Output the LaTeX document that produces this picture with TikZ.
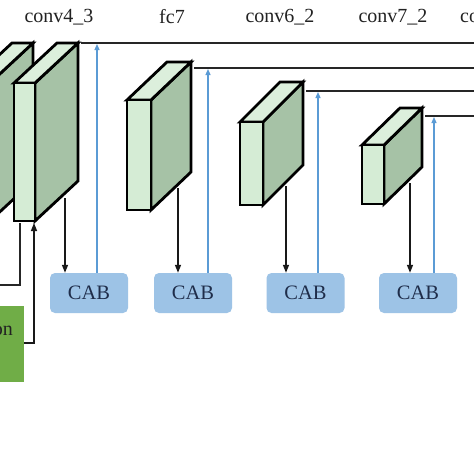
\documentclass[tikz,border=0pt]{standalone}
\usepackage{fontspec}
\setmainfont{Liberation Serif}
\usetikzlibrary{arrows.meta}
\definecolor{frontc}{HTML}{D5ECD5}
\definecolor{sidec}{HTML}{A6C2A6}
\definecolor{topc}{HTML}{DCEFDC}
\definecolor{cabfill}{HTML}{9DC3E6}
\definecolor{cabtext}{HTML}{1F2D4A}
\definecolor{bluec}{HTML}{5B9BD5}
\definecolor{greenc}{HTML}{70AD47}
\definecolor{labc}{HTML}{222222}
\newcommand\drawblk[7]{% name, xl, xr, yt, yb, dx, dy
  \path[sideface] (#3,#4) -- (#3+#6,#4-#7) -- (#3+#6,#5-#7) -- (#3,#5) -- cycle;
  \path[topface] (#2,#4) -- (#2+#6,#4-#7) -- (#3+#6,#4-#7) -- (#3,#4) -- cycle;
  \path[frontface] (#2,#4) rectangle (#3,#5);
  \coordinate (#1-btr) at (#3+#6,#4-#7);
  \coordinate (#1-fbr) at (#3,#5);
}
\begin{document}
\begin{tikzpicture}[x=1pt,y=-1pt,
  frontface/.style={fill=frontc,draw=black,line width=2.8pt,line join=miter},
  sideface/.style={fill=sidec,draw=black,line width=2.8pt,line join=miter},
  topface/.style={fill=topc,draw=black,line width=2.8pt,line join=miter},
  lab/.style={text=labc,font=\fontsize{20}{24}\selectfont,inner sep=0pt},
  cab/.style={fill=cabfill,rounded corners=5pt,minimum width=78pt,minimum height=40pt,inner sep=0pt,text=cabtext,font=\fontsize{20.5}{24}\selectfont},
  hline/.style={draw=black!85,line width=1.4pt},
  darr/.style={draw=black!90,line width=1.4pt,-{Triangle[length=8pt,width=6pt]}},
  barr/.style={draw=bluec,line width=1.2pt,-{Triangle[length=6pt,width=5pt]}},
  plainline/.style={draw=black!85,line width=1.4pt},
  greenbox/.style={fill=greenc,inner sep=0pt}
]
\useasboundingbox (0,0) rectangle (474,474);
\clip (0,0) rectangle (474,474);
\fill[white] (0,0) rectangle (474,474);

% labels
\node[lab] (t1) at (59,17) {conv4\_3};
\node[lab] (t2) at (172,17) {fc7};
\node[lab] (t3) at (280,17) {conv6\_2};
\node[lab] (t4) at (393,17) {conv7\_2};
\node[lab,anchor=west] (t5) at (460,17) {conv8\_2};

% blocks
\drawblk{b0}{-31}{-10}{83}{221}{43}{40}
\drawblk{b1}{14}{35}{83}{221}{43}{40}
\drawblk{b2}{127}{151}{100}{210}{40}{38}
\drawblk{b3}{240}{263}{122}{205}{40}{40}
\drawblk{b4}{362}{384}{145}{204}{38}{37}

% horizontal lines to the right
\coordinate (r1) at (480,43);
\coordinate (r2) at (480,68);
\coordinate (r3) at (480,91);
\coordinate (r4) at (480,116);
\coordinate (h1) at (81,43);
\coordinate (h2) at (194,68);
\coordinate (h3) at (306,91);
\coordinate (h4) at (425,116);
\draw[hline] (h1) -- (r1);
\draw[hline] (h2) -- (r2);
\draw[hline] (h3) -- (r3);
\draw[hline] (h4) -- (r4);

% CAB nodes
\node[cab] (cab1) at (89,293) {CAB};
\node[cab] (cab2) at (193,293) {CAB};
\node[cab] (cab3) at (305.5,293) {CAB};
\node[cab] (cab4) at (418,293) {CAB};

% black arrows down into CAB
\coordinate (d1) at (65,198);
\coordinate (d2) at (178,188);
\coordinate (d3) at (286,186);
\coordinate (d4) at (410,183);
\draw[darr] (d1) -- (cab1.north -| d1);
\draw[darr] (d2) -- (cab2.north -| d2);
\draw[darr] (d3) -- (cab3.north -| d3);
\draw[darr] (d4) -- (cab4.north -| d4);

% blue arrows up to the horizontal lines
\coordinate (u1) at (97,44);
\coordinate (u2) at (208,69);
\coordinate (u3) at (318,92);
\coordinate (u4) at (434,117);
\draw[barr] (cab1.north -| u1) -- (u1);
\draw[barr] (cab2.north -| u2) -- (u2);
\draw[barr] (cab3.north -| u3) -- (u3);
\draw[barr] (cab4.north -| u4) -- (u4);

% green box and left connectors
\node[greenbox,minimum width=40pt,minimum height=76pt] (gb) at (4,344) {};
\node[lab,anchor=east] (gbt) at (13,331) {on};
\coordinate (o1) at (20,223);
\coordinate (o1b) at (20,285);
\coordinate (o1c) at (-5,285);
\draw[plainline] (o1) -- (o1b) -- (o1c);
\coordinate (i1) at (34,223);
\coordinate (i1b) at (34,343);
\draw[darr] (gb.east |- i1b) -- (i1b) -- (i1);
\end{tikzpicture}
\end{document}
